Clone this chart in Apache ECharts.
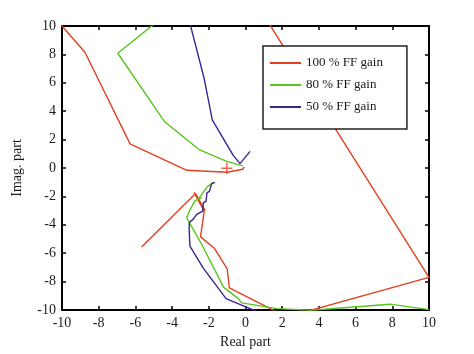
<!DOCTYPE html>
<html>
<head>
<meta charset="utf-8">
<script src="https://cdn.jsdelivr.net/npm/echarts@6/dist/echarts.min.js"></script>
<style>
html,body{margin:0;padding:0;background:#fff;}
#chart{width:474px;height:354px;}
</style>
</head>
<body>
<div id="chart"></div>
<script>
// Tick values
const xTicks = [-10,-8,-6,-4,-2,0,2,4,6,8,10];
const yTicks = [-10,-8,-6,-4,-2,0,2,4,6,8,10];
const seriesNames = ['100 % FF gain', '80 % FF gain', '50 % FF gain'];

// 100 % FF gain (points beyond the frame are clipped by the axes)
const red100 = [[-0.07,0.08],[-0.15,-0.09],[-1.0,-0.3],[-3.2,-0.16],[-6.29,1.7],[-8.75,8.15],[-11.35,12],
  [0.39,12],[10,-7.7],[2.25,-10.49],[-0.88,-8.45],[-1.0,-7.1],[-1.7,-5.65],[-2.45,-4.85],
  [-2.25,-3.05],[-2.8,-1.72],[-2.2,-3.0],[-2.72,-1.8],[-5.66,-5.56]];
// 80 % FF gain
const green80Upper = [[-3.19,12],[-6.96,8.08],[-4.42,3.28],[-2.53,1.3],[-1.02,0.47],[-0.15,0.15]];
const green80Lower = [[-1.76,-1.0],[-2.1,-1.35],[-2.35,-1.8],[-2.57,-2.17],[-2.4,-2.1],[-2.75,-2.3],[-3.06,-3.03],[-3.2,-3.5],[-3.11,-3.73],
  [-2.39,-5.37],[-1.93,-6.53],[-1.2,-8.39],[-0.39,-9.2],[-0.21,-9.5],[1.7,-9.9],[3.6,-10.02],[7.87,-9.59],[10,-9.97]];
// 50 % FF gain
const purple50Upper = [[-3.39,12],[-2.26,6.34],[-1.81,3.39],[-0.67,0.89],[-0.3,0.31],[-0.21,0.19],[0.25,1.17]];
const purple50Lower = [[-1.66,-1.01],[-1.84,-1.1],[-1.97,-1.65],[-2.1,-1.75],[-2.15,-2.33],[-2.3,-2.45],[-2.33,-3.03],
  [-2.66,-3.26],[-2.85,-3.6],[-3.06,-3.84],[-3.07,-4.3],[-3.03,-5.5],[-2.3,-7.05],[-1.06,-9.2],[-0.21,-9.66],[0.8,-10.2]];
// Marker (+)
const crossPoint = [[-1.02,-0.02]];

const colors = ['#e2411f', '#58c51c', '#3b2596'];
const FONT = 'Liberation Serif';
const BRK = ['-','-'];

function axisCommon(pos, showLabel) {
  return {
    type: 'value', min: -10, max: 10, interval: 2, position: pos,
    axisLine: { show: true, onZero: false, lineStyle: { color: '#000', width: 2 } },
    axisTick: { show: true, inside: true, length: 4, lineStyle: { color: '#000', width: 1.5 } },
    axisLabel: { show: showLabel, color: '#1a1a1a', fontFamily: FONT, fontSize: 14, margin: 6 },
    splitLine: { show: false }
  };
}

const chart = echarts.init(document.getElementById('chart'), null, { renderer: 'canvas' });
const xBottom = Object.assign(axisCommon('bottom', true), {
  name: 'Real part', nameLocation: 'middle', nameGap: 25,
  nameTextStyle: { color: '#1a1a1a', fontFamily: FONT, fontSize: 14 }
});
const yLeft = Object.assign(axisCommon('left', true), {
  name: 'Imag. part', nameLocation: 'middle', nameGap: 38,
  nameTextStyle: { color: '#1a1a1a', fontFamily: FONT, fontSize: 14 }
});
const lineBase = { type: 'line', symbol: 'none', clip: true, connectNulls: false, animation: false };

chart.setOption({
  animation: false,
  backgroundColor: '#fff',
  grid: { left: 62, right: 45, top: 26, bottom: 41 },
  xAxis: [xBottom, axisCommon('top', false)],
  yAxis: [yLeft, axisCommon('right', false)],
  legend: {
    data: seriesNames, orient: 'vertical', left: 263, top: 46,
    icon: 'rect', itemWidth: 31, itemHeight: 2, itemGap: 8,
    itemStyle: { borderWidth: 0 },
    backgroundColor: '#fff', borderColor: '#222', borderWidth: 1.5,
    padding: [10, 24, 15, 7],
    textStyle: { color: '#1a1a1a', fontFamily: FONT, fontSize: 13, lineHeight: 14 }
  },
  series: [
    Object.assign({}, lineBase, { name: seriesNames[0], data: red100,
      itemStyle: { color: colors[0] }, lineStyle: { color: colors[0], width: 1.4 } }),
    Object.assign({}, lineBase, { name: seriesNames[1], data: green80Upper.concat([BRK], green80Lower),
      itemStyle: { color: colors[1] }, lineStyle: { color: colors[1], width: 1.4 } }),
    Object.assign({}, lineBase, { name: seriesNames[2], data: purple50Upper.concat([BRK], purple50Lower),
      itemStyle: { color: colors[2] }, lineStyle: { color: colors[2], width: 1.4 } }),
    { type: 'scatter', name: 'pole', data: crossPoint, symbol: 'path://M5,0L5,10M0,5L10,5', symbolSize: 11,
      itemStyle: { color: 'rgba(0,0,0,0)', borderColor: colors[0], borderWidth: 1.5 }, z: 3 }
  ]
});
</script>
</body>
</html>
